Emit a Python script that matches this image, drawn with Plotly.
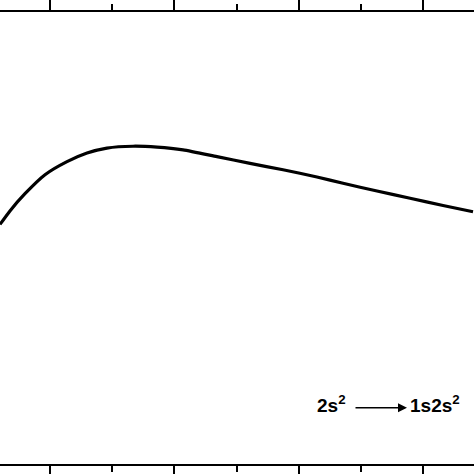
import plotly.graph_objects as go

# curve data (arbitrary units)
x_vals = [-0.402, -0.322, -0.201, -0.040, 0.137, 0.298, 0.458, 0.668, 0.861,
          1.070, 1.343, 1.609, 1.874, 2.147, 2.357, 2.630, 2.896, 3.161, 3.402]
y_vals = [0.530, 0.560, 0.598, 0.640, 0.669, 0.688, 0.699, 0.703, 0.701,
          0.695, 0.680, 0.665, 0.651, 0.635, 0.621, 0.604, 0.588, 0.572, 0.558]

label_left = "<b>2s<sup>2</sup></b>"
label_right = "<b>1s2s<sup>2</sup></b>"

fig = go.Figure()
fig.add_trace(go.Scatter(x=x_vals, y=y_vals, mode="lines",
                         line=dict(color="black", width=3.2, shape="spline", smoothing=0.6),
                         showlegend=False, hoverinfo="skip"))

fig.update_layout(
    width=474, height=474,
    margin=dict(l=0, r=0, t=9, b=10),
    paper_bgcolor="white", plot_bgcolor="white",
    font=dict(family="Liberation Sans, Arial, sans-serif", color="black"),
    xaxis=dict(range=[-0.402, 3.41], showgrid=False, zeroline=False,
               showline=True, linecolor="black", linewidth=2, mirror="ticks",
               ticks="outside", ticklen=10, tickwidth=2, tickcolor="black",
               dtick=1, tick0=0, showticklabels=False,
               minor=dict(ticks="outside", ticklen=6, tickwidth=2, tickcolor="black", dtick=0.5)),
    yaxis=dict(range=[0, 1], showgrid=False, zeroline=False, showline=False,
               showticklabels=False, ticks=""),
)

fig.add_annotation(xref="paper", yref="paper", x=331.5/474, y=(464-404)/455,
                   text=label_left, showarrow=False, xanchor="center", yanchor="middle",
                   font=dict(size=19, family="Liberation Sans, Arial, sans-serif", color="black"))
fig.add_annotation(xref="paper", yref="paper", x=435/474, y=(464-404)/455,
                   text=label_right, showarrow=False, xanchor="center", yanchor="middle",
                   font=dict(size=19, family="Liberation Sans, Arial, sans-serif", color="black"))
fig.add_annotation(xref="paper", yref="paper", x=407/474, y=(464-407.5)/455,
                   axref="pixel", ayref="pixel", ax=-53, ay=0,
                   text="", showarrow=True, arrowhead=2, arrowsize=1.2, arrowwidth=1.5,
                   arrowcolor="black")

fig.write_html("out.html", config={"displayModeBar": False},
               post_script="document.body.style.margin='0';")
